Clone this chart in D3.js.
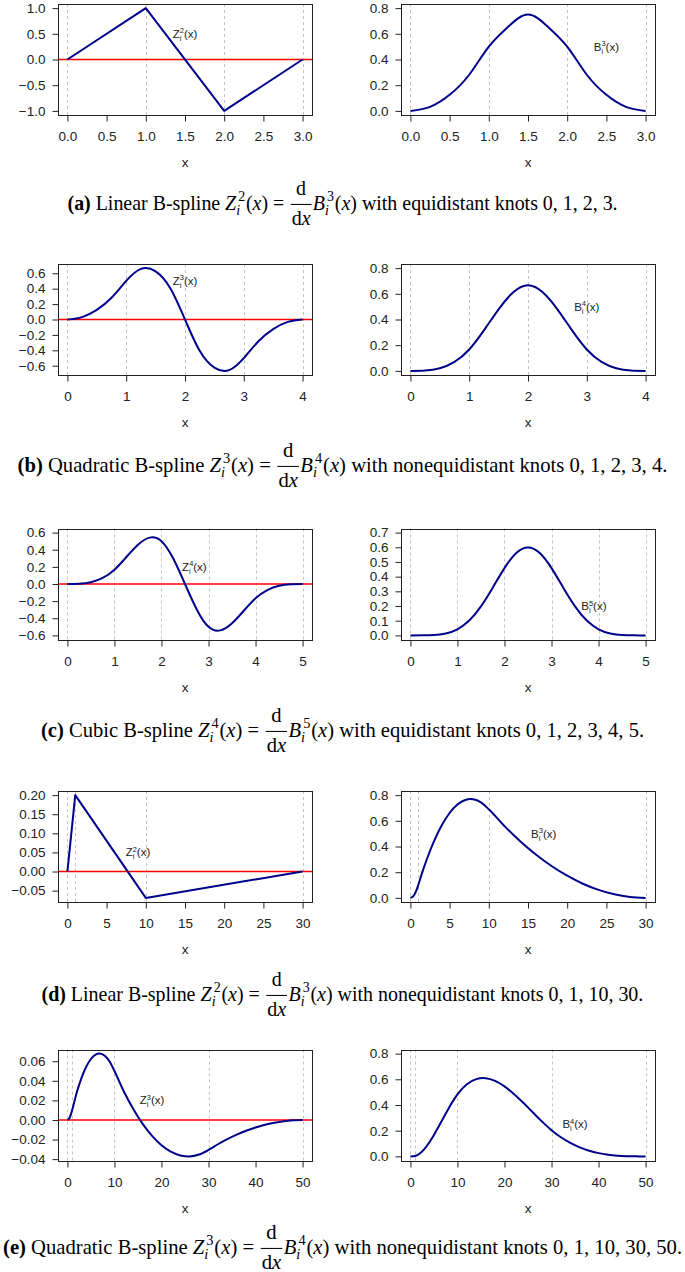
<!DOCTYPE html>
<html><head><meta charset="utf-8">
<script src="https://cdn.jsdelivr.net/npm/d3@7"></script>
<style>body{margin:0;background:#fff}</style>
</head><body><svg id="c" width="685" height="1272"></svg>
<script>
// ---------------- DATA ----------------
// (a) knots 0,1,2,3
const knotsA = [0, 1, 2, 3];
const xZa = [0, 1, 2, 3];
const yZa = [0, 1, -1, 0];
const xBa = [0, 0.25, 0.5, 0.75, 1, 1.25, 1.5, 1.75, 2, 2.25, 2.5, 2.75, 3];
const yBa = [0, 0.0313, 0.125, 0.2813, 0.5, 0.6563, 0.75, 0.6563, 0.5, 0.2813, 0.125, 0.0313, 0];
// (b) knots 0..4
const knotsB = [0, 1, 2, 3, 4];
const xZb = [0, 0.25, 0.5, 0.75, 1, 1.25, 1.5, 1.75, 2, 2.25, 2.5, 2.75, 3, 3.25, 3.5, 3.75, 4];
const yZb = [0, 0.0313, 0.125, 0.2813, 0.5, 0.6563, 0.625, 0.4063, 0, -0.4063, -0.625, -0.6563, -0.5, -0.2813, -0.125, -0.0313, 0];
const xBb = [0, 0.25, 0.5, 0.75, 1, 1.25, 1.5, 1.75, 2, 2.25, 2.5, 2.75, 3, 3.25, 3.5, 3.75, 4];
const yBb = [0, 0.0026, 0.0208, 0.0703, 0.1667, 0.3151, 0.4792, 0.612, 0.6667, 0.612, 0.4792, 0.3151, 0.1667, 0.0703, 0.0208, 0.0026, 0];
// (c) knots 0..5
const knotsC = [0, 1, 2, 3, 4, 5];
const xZc = [0, 0.25, 0.5, 0.75, 1, 1.25, 1.5, 1.75, 2, 2.25, 2.5, 2.75, 3, 3.25, 3.5, 3.75, 4, 4.25, 4.5, 4.75, 5];
const yZc = [0, 0.0026, 0.0208, 0.0703, 0.1667, 0.3125, 0.4583, 0.5417, 0.5, 0.2969, 0, -0.2969, -0.5, -0.5417, -0.4583, -0.3125, -0.1667, -0.0703, -0.0208, -0.0026, 0];
const xBc = [0, 0.25, 0.5, 0.75, 1, 1.25, 1.5, 1.75, 2, 2.25, 2.5, 2.75, 3, 3.25, 3.5, 3.75, 4, 4.25, 4.5, 4.75, 5];
const yBc = [0, 0.0002, 0.0026, 0.0132, 0.0417, 0.1009, 0.1979, 0.3249, 0.4583, 0.5609, 0.599, 0.5609, 0.4583, 0.3249, 0.1979, 0.1009, 0.0417, 0.0132, 0.0026, 0.0002, 0];
// (d) knots 0,1,10,30
const knotsD = [0, 1, 10, 30];
const xZd = [0, 1, 10, 30];
const yZd = [0, 0.2, -0.069, 0];
const xBd = [0, 0.25, 0.5, 0.75, 1, 1.5, 2, 3, 4, 5, 6, 7, 7.7, 8, 9, 10, 12, 14, 16, 18, 20, 22, 24, 26, 28, 30];
const yBd = [0, 0.0063, 0.025, 0.0563, 0.1, 0.1963, 0.2851, 0.4402, 0.5655, 0.6609, 0.7264, 0.7621, 0.7692, 0.7678, 0.7437, 0.6897, 0.5586, 0.4414, 0.3379, 0.2483, 0.1724, 0.1103, 0.0621, 0.0276, 0.0069, 0];
// (e) knots 0,1,10,30,50
const knotsE = [0, 1, 10, 30, 50];
const xZe = [0, 0.5, 1, 2, 3, 4, 5, 6, 6.8, 8, 9, 10, 12, 14, 16, 18, 20, 22, 24, 26, 28, 30, 32, 34, 36, 38, 40, 42, 44, 46, 48, 50];
const yZe = [0, 0.0025, 0.01, 0.0283, 0.0431, 0.0544, 0.0623, 0.0668, 0.0678, 0.0653, 0.0594, 0.05, 0.0291, 0.0112, -0.004, -0.0163, -0.0258, -0.0324, -0.0362, -0.0372, -0.0353, -0.0306, -0.0248, -0.0196, -0.015, -0.011, -0.0077, -0.0049, -0.0028, -0.0012, -0.0003, 0];
const xBe = [0, 0.5, 1, 2, 3, 4, 5, 6, 7, 8, 9, 10, 12, 14, 15.5, 16, 18, 20, 22, 24, 26, 28, 30, 32, 34, 36, 38, 40, 42, 44, 46, 48, 50];
const yBe = [0, 0.0004, 0.0033, 0.0228, 0.0587, 0.1078, 0.1665, 0.2313, 0.2989, 0.3657, 0.4283, 0.4832, 0.5619, 0.6017, 0.6095, 0.6084, 0.5877, 0.5451, 0.4864, 0.4174, 0.3435, 0.2705, 0.2041, 0.1488, 0.1045, 0.07, 0.0441, 0.0255, 0.0131, 0.0055, 0.0016, 0.0002, 0];

// axis limits & ticks
const xlims = [[0, 3], [0, 4], [0, 5], [0, 30], [0, 50]];
const ylimsLeft = [[-1, 1], [-0.6667, 0.6667], [-0.6, 0.6], [-0.069, 0.2], [-0.0372, 0.0678]];
const ylimsRight = [[0, 0.8], [0, 0.8], [0, 0.7], [0, 0.8], [0, 0.8]];
const xticksA = [0, 0.5, 1, 1.5, 2, 2.5, 3];
const xticksB = [0, 1, 2, 3, 4];
const xticksC = [0, 1, 2, 3, 4, 5];
const xticksD = [0, 5, 10, 15, 20, 25, 30];
const xticksE = [0, 10, 20, 30, 40, 50];
const yticksAL = [-1, -0.5, 0, 0.5, 1];
const yticksBL = [-0.6, -0.4, -0.2, 0, 0.2, 0.4, 0.6];
const yticksCL = [-0.6, -0.4, -0.2, 0, 0.2, 0.4, 0.6];
const yticksDL = [-0.05, 0, 0.05, 0.1, 0.15, 0.2];
const yticksEL = [-0.04, -0.02, 0, 0.02, 0.04, 0.06];
const yticksR08 = [0, 0.2, 0.4, 0.6, 0.8];
const yticksR07 = [0, 0.1, 0.2, 0.3, 0.4, 0.5, 0.6, 0.7];

// curve labels: [letter, superscript, x, y]
const labelsLeft = [["Z", "2", 1.5, 0.5], ["Z", "3", 2, 0.5], ["Z", "4", 2.7, 0.2], ["Z", "2", 9, 0.05], ["Z", "3", 18, 0.02]];
const labelsRight = [["B", "3", 2.5, 0.5], ["B", "4", 3, 0.5], ["B", "5", 3.9, 0.2], ["B", "3", 17, 0.5], ["B", "4", 35, 0.25]];

// captions
const captionLetters = ["(a)", "(b)", "(c)", "(d)", "(e)"];
const captionKinds = ["Linear", "Quadratic", "Cubic", "Linear", "Quadratic"];
const captionZ = ["2", "3", "4", "2", "3"];
const captionB = ["3", "4", "5", "3", "4"];
const captionTails = ["equidistant knots 0, 1, 2, 3.", "nonequidistant knots 0, 1, 2, 3, 4.",
  "equidistant knots 0, 1, 2, 3, 4, 5.", "nonequidistant knots 0, 1, 10, 30.", "nonequidistant knots 0, 1, 10, 30, 50."];

// ---------------- LAYOUT ----------------
const svg = d3.select("#c");
svg.append("rect").attr("width", 685).attr("height", 1272).attr("fill", "#fff");
const SANS = "'Liberation Sans', Arial, Helvetica, sans-serif";
const SERIF = "'Liberation Serif', 'Times New Roman', serif";
const rowTop = [4, 264, 528.5, 791, 1049.5];
const plotH = 111;
const colX = [[58, 312], [401, 655]];
const capBase = [210, 472, 737, 1001, 1254];
const capWidth = [550, 0, 603, 602, 679];
const TICKFS = 13.5;

function fmt(d, dec) { return d3.format(`.${dec}f`)(d).replace("-", "\u2212"); }

function drawPanel(p) {
  const [x0, x1] = colX[p.col];
  const top = rowTop[p.row], bot = top + plotH;
  const xr = p.xlim[1] - p.xlim[0], yr = p.ylim[1] - p.ylim[0];
  const x = d3.scaleLinear().domain([p.xlim[0] - 0.04 * xr, p.xlim[1] + 0.04 * xr]).range([x0, x1]);
  const y = d3.scaleLinear().domain([p.ylim[0] - 0.04 * yr, p.ylim[1] + 0.04 * yr]).range([bot, top]);
  const g = svg.append("g");
  g.selectAll(".knot").data(p.knots).join("line")
    .attr("x1", d => Math.round(x(d)) + 0.5).attr("x2", d => Math.round(x(d)) + 0.5)
    .attr("y1", top).attr("y2", bot)
    .attr("stroke", "#c4c4c4").attr("stroke-width", 1).attr("stroke-dasharray", "3,3");
  if (p.zero) g.append("line").attr("x1", x0).attr("x2", x1).attr("y1", y(0)).attr("y2", y(0))
    .attr("stroke", "#ff0000").attr("stroke-width", 1.4);
  const curve = p.linear ? d3.curveLinear : (p.uniform ? d3.curveNatural : d3.curveMonotoneX);
  const line = d3.line().x((d, i) => x(p.xs[i])).y(d => y(d)).curve(curve);
  g.append("path").attr("d", line(p.ys)).attr("fill", "none").attr("stroke", "#00008b")
    .attr("stroke-width", 2).attr("stroke-linejoin", "round");
  g.append("rect").attr("x", x0 + 0.5).attr("y", Math.round(top) + 0.5).attr("width", x1 - x0).attr("height", plotH)
    .attr("fill", "none").attr("stroke", "#222").attr("stroke-width", 1);
  const ax = g.append("g").attr("transform", `translate(0,${Math.round(bot) + 0.5})`)
    .call(d3.axisBottom(x).tickValues(p.xticks).tickFormat(d => fmt(d, p.xdec)).tickSize(6).tickPadding(10).tickSizeOuter(0));
  ax.select(".domain").attr("d", `M${x(p.xticks[0])},0H${x(p.xticks[p.xticks.length - 1])}`);
  ax.attr("font-size", TICKFS).attr("font-family", SANS).attr("color", "#222");
  const ay = g.append("g").attr("transform", `translate(${x0 + 0.5},0)`)
    .call(d3.axisLeft(y).tickValues(p.yticks).tickFormat(d => fmt(d, p.ydec)).tickSize(6).tickPadding(7).tickSizeOuter(0));
  ay.select(".domain").attr("d", `M0,${y(p.yticks[0])}V${y(p.yticks[p.yticks.length - 1])}`);
  ay.attr("font-size", TICKFS).attr("font-family", SANS).attr("color", "#222");
  g.append("text").attr("x", (x0 + x1) / 2).attr("y", bot + 52).attr("text-anchor", "middle")
    .attr("font-family", SANS).attr("font-size", TICKFS).attr("fill", "#222").text("x");
  const [L, S, lx, ly] = p.label;
  const lt = g.append("text").attr("x", x(lx)).attr("y", y(ly) + 4).attr("text-anchor", "middle")
    .attr("font-family", SANS).attr("font-size", 11.5).attr("fill", "#222");
  lt.append("tspan").text(L);
  lt.append("tspan").attr("dy", -4.5).attr("font-size", 7.5).text(S);
  lt.append("tspan").attr("dx", -4.2).attr("dy", 7.5).attr("font-size", 7.5).text("i");
  lt.append("tspan").attr("dx", 2.5).attr("dy", -3).text("(x)");
}

const leftX = [xZa, xZb, xZc, xZd, xZe], leftY = [yZa, yZb, yZc, yZd, yZe];
const rightX = [xBa, xBb, xBc, xBd, xBe], rightY = [yBa, yBb, yBc, yBd, yBe];
const knotsAll = [knotsA, knotsB, knotsC, knotsD, knotsE];
const xticksAll = [xticksA, xticksB, xticksC, xticksD, xticksE];
const yticksLeft = [yticksAL, yticksBL, yticksCL, yticksDL, yticksEL];
const yticksRight = [yticksR08, yticksR08, yticksR07, yticksR08, yticksR08];
const xdecs = [1, 0, 0, 0, 0];
const ydecsL = [1, 1, 1, 2, 2];
const uniformRows = [true, true, true, false, false];

for (let r = 0; r < 5; r++) {
  drawPanel({ row: r, col: 0, xs: leftX[r], ys: leftY[r], xlim: xlims[r], ylim: ylimsLeft[r],
    knots: knotsAll[r], zero: true, linear: (r === 0 || r === 3), uniform: uniformRows[r],
    xticks: xticksAll[r], yticks: yticksLeft[r], xdec: xdecs[r], ydec: ydecsL[r], label: labelsLeft[r] });
  drawPanel({ row: r, col: 1, xs: rightX[r], ys: rightY[r], xlim: xlims[r], ylim: ylimsRight[r],
    knots: knotsAll[r], zero: false, linear: false, uniform: uniformRows[r],
    xticks: xticksAll[r], yticks: yticksRight[r], xdec: xdecs[r], ydec: 1, label: labelsRight[r] });
}

// ---------------- CAPTIONS ----------------
function renderRun(g, parts, x, y, fs) {
  let cx = x;
  parts.forEach(p => {
    const t = g.append("text").attr("x", cx).attr("y", y + (p.dy || 0) * fs)
      .attr("font-size", fs * (p.sc || 1)).attr("font-style", p.it ? "italic" : "normal")
      .attr("font-weight", p.b ? "bold" : "normal").style("white-space", "pre").text(p.t);
    cx += t.node().getComputedTextLength();
  });
  return cx - x;
}
function buildCaption(g, segs, fs) {
  let cx = 0;
  segs.forEach(s => {
    if (s.num) {
      const tmp = g.append("g");
      const wn = renderRun(tmp, s.num, 0, 0, fs), wd = renderRun(tmp, s.den, 0, 0, fs);
      tmp.remove();
      const w = Math.max(wn, wd) + 0.24 * fs;
      renderRun(g, s.num, cx + (w - wn) / 2, -0.74 * fs, fs);
      renderRun(g, s.den, cx + (w - wd) / 2, 0.72 * fs, fs);
      g.append("line").attr("x1", cx + 0.07 * fs).attr("x2", cx + w - 0.07 * fs)
        .attr("y1", -0.27 * fs).attr("y2", -0.27 * fs).attr("stroke", "#000").attr("stroke-width", 0.05 * fs);
      cx += w;
    } else if (s.sup) {
      const w1 = renderRun(g, [{ t: s.sup, sc: 0.7, dy: -0.42 }], cx + 0.1 * fs, 0, fs);
      const w2 = renderRun(g, [{ t: s.sub, sc: 0.7, dy: 0.24, it: 1 }], cx, 0, fs);
      cx += Math.max(w1 + 0.1 * fs, w2) + 0.04 * fs;
    } else {
      cx += renderRun(g, [s], cx, 0, fs);
    }
  });
  return cx;
}
function captionSegs(i) {
  return [
    { t: captionLetters[i], b: 1 }, { t: " " + captionKinds[i] + " B-spline " },
    { t: "Z", it: 1 }, { sup: captionZ[i], sub: "i" }, { t: "(" }, { t: "x", it: 1 }, { t: ") = " },
    { num: [{ t: "d" }], den: [{ t: "d" }, { t: "x", it: 1 }] },
    { t: "B", it: 1 }, { sup: captionB[i], sub: "i" }, { t: "(" }, { t: "x", it: 1 }, { t: ") with " + captionTails[i] }
  ];
}
const tmpG = svg.append("g").attr("font-family", SERIF);
const wRef = buildCaption(tmpG, captionSegs(4), 20);
tmpG.remove();
const capFs = 20 * capWidth[4] / wRef;
for (let i = 0; i < 5; i++) {
  const g = svg.append("g").attr("font-family", SERIF).attr("fill", "#000");
  const inner = g.append("g");
  const w = buildCaption(inner, captionSegs(i), capFs);
  const target = capWidth[i] || w;
  const sx = target / w;
  g.attr("transform", `translate(${(685 - target) / 2},${capBase[i]})`);
  inner.attr("transform", `scale(${sx},1)`);
}
</script></body></html>
